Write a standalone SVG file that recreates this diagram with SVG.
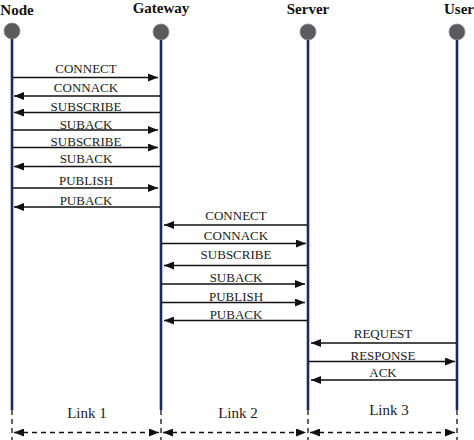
<svg xmlns="http://www.w3.org/2000/svg" width="474" height="440" viewBox="0 0 474 440">
<defs>
<style>
.t{font-family:"Liberation Serif","Times New Roman",serif;font-size:13px;fill:#1a1a1a;text-anchor:middle}
.h{font-family:"Liberation Serif","Times New Roman",serif;font-size:15px;font-weight:bold;fill:#111;text-anchor:middle}
.lk{font-family:"Liberation Serif","Times New Roman",serif;font-size:15px;fill:#1a1a1a;text-anchor:middle}
.life{stroke:#1b2a60;stroke-width:2.6;fill:none}
.dot{fill:#5b5b5e;stroke:#8a8a8e;stroke-width:0.8}
.msg{stroke:#111;stroke-width:1.4;fill:none;marker-end:url(#ah)}
.dv{stroke:#111;stroke-width:1.3;stroke-dasharray:5,4;fill:none}
.dh{stroke:#111;stroke-width:1.3;stroke-dasharray:5,4;fill:none;marker-start:url(#ahs);marker-end:url(#ah)}
</style>
<marker id="ah" markerUnits="userSpaceOnUse" markerWidth="11" markerHeight="8" refX="10" refY="4" orient="auto">
<path d="M0,0 L10,4 L0,8 Z" fill="#111"/>
</marker>
<marker id="ahs" markerUnits="userSpaceOnUse" markerWidth="11" markerHeight="8" refX="0" refY="4" orient="auto">
<path d="M10,0 L0,4 L10,8 Z" fill="#111"/>
</marker>
</defs>
<rect width="474" height="440" fill="#fff"/>
<g id="node">
<text class="h" x="17" y="15">Node</text>
<circle class="dot" cx="12" cy="31" r="8"/>
<line class="life" x1="12" y1="39" x2="12" y2="410"/>
</g>
<g id="gateway">
<text class="h" x="161" y="13">Gateway</text>
<circle class="dot" cx="161" cy="32" r="8"/>
<line class="life" x1="161" y1="40" x2="161" y2="410"/>
</g>
<g id="server">
<text class="h" x="308" y="14">Server</text>
<circle class="dot" cx="308" cy="32" r="8"/>
<line class="life" x1="308" y1="40" x2="308" y2="410"/>
</g>
<g id="user">
<text class="h" x="459" y="14">User</text>
<circle class="dot" cx="457" cy="32" r="8"/>
<line class="life" x1="457" y1="40" x2="457" y2="410"/>
</g>
<g id="connectors">
<line class="msg" x1="13" y1="77.5" x2="158" y2="77.5"/>
<line class="msg" x1="160" y1="96" x2="14" y2="96"/>
<line class="msg" x1="160" y1="112.5" x2="14" y2="112.5"/>
<line class="msg" x1="13" y1="130" x2="158" y2="130"/>
<line class="msg" x1="13" y1="147.5" x2="158" y2="147.5"/>
<line class="msg" x1="160" y1="166.5" x2="14" y2="166.5"/>
<line class="msg" x1="13" y1="188" x2="158" y2="188"/>
<line class="msg" x1="160" y1="207" x2="14" y2="207"/>
<line class="msg" x1="307" y1="225" x2="164" y2="225"/>
<line class="msg" x1="162" y1="243.5" x2="306" y2="243.5"/>
<line class="msg" x1="307" y1="265.5" x2="164" y2="265.5"/>
<line class="msg" x1="162" y1="284" x2="305" y2="284"/>
<line class="msg" x1="162" y1="302.5" x2="305" y2="302.5"/>
<line class="msg" x1="307" y1="320.5" x2="164" y2="320.5"/>
<line class="msg" x1="456" y1="343" x2="311" y2="343"/>
<line class="msg" x1="309" y1="361.5" x2="455" y2="361.5"/>
<line class="msg" x1="456" y1="380" x2="311" y2="380"/>
<line class="dv" x1="12" y1="410" x2="12" y2="440"/>
<line class="dv" x1="161" y1="410" x2="161" y2="440"/>
<line class="dv" x1="308" y1="410" x2="308" y2="440"/>
<line class="dv" x1="457" y1="410" x2="457" y2="440"/>
<line class="dh" x1="14" y1="432.5" x2="159" y2="432.5"/>
<line class="dh" x1="163" y1="432.5" x2="306" y2="432.5"/>
<line class="dh" x1="310" y1="432.5" x2="455" y2="432.5"/>
</g>
<g id="labels">
<text class="t" x="86" y="73">CONNECT</text>
<text class="t" x="86" y="92">CONNACK</text>
<text class="t" x="86" y="111">SUBSCRIBE</text>
<text class="t" x="86" y="129">SUBACK</text>
<text class="t" x="86" y="146">SUBSCRIBE</text>
<text class="t" x="86" y="163">SUBACK</text>
<text class="t" x="86" y="185">PUBLISH</text>
<text class="t" x="86" y="205">PUBACK</text>
<text class="t" x="236" y="220">CONNECT</text>
<text class="t" x="236" y="240">CONNACK</text>
<text class="t" x="236" y="259">SUBSCRIBE</text>
<text class="t" x="236" y="282">SUBACK</text>
<text class="t" x="236" y="301">PUBLISH</text>
<text class="t" x="236" y="319">PUBACK</text>
<text class="t" x="383" y="338">REQUEST</text>
<text class="t" x="383" y="360">RESPONSE</text>
<text class="t" x="383" y="377">ACK</text>
<text class="lk" x="87" y="418">Link 1</text>
<text class="lk" x="238" y="418">Link 2</text>
<text class="lk" x="389" y="415">Link 3</text>
</g>
</svg>
